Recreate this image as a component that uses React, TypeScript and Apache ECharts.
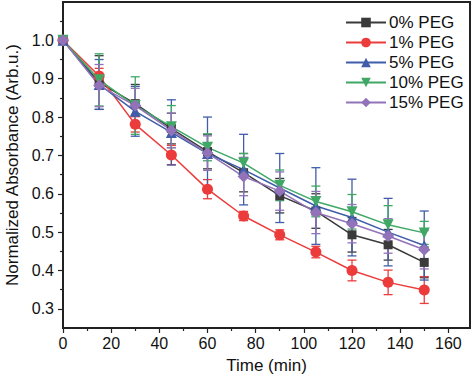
import React, { useEffect, useRef } from "react";
import * as echarts from "echarts";

const times = [0, 15, 30, 45, 60, 75, 90, 105, 120, 135, 150];

const peg0 = [1.0, 0.89, 0.835, 0.77, 0.71, 0.655, 0.595, 0.555, 0.493, 0.467, 0.421];
const err0 = [0, 0.07, 0.05, 0.04, 0.045, 0.05, 0.045, 0.045, 0.045, 0.04, 0.04];
const peg1 = [1.0, 0.907, 0.781, 0.701, 0.612, 0.542, 0.493, 0.448, 0.4, 0.369, 0.349];
const err1 = [0, 0.02, 0.02, 0.025, 0.025, 0.012, 0.013, 0.015, 0.027, 0.032, 0.035];
const peg5 = [1.0, 0.885, 0.815, 0.76, 0.705, 0.663, 0.615, 0.568, 0.538, 0.5, 0.465];
const err5 = [0, 0.065, 0.065, 0.085, 0.095, 0.092, 0.09, 0.1, 0.1, 0.088, 0.09];
const peg10 = [1.0, 0.897, 0.83, 0.775, 0.721, 0.68, 0.622, 0.58, 0.553, 0.519, 0.498];
const err10 = [0, 0.068, 0.075, 0.055, 0.035, 0.025, 0.04, 0.04, 0.045, 0.05, 0.03];
const peg15 = [1.0, 0.882, 0.83, 0.765, 0.706, 0.645, 0.607, 0.551, 0.522, 0.49, 0.454];
const err15 = [0, 0.055, 0.045, 0.045, 0.045, 0.05, 0.05, 0.055, 0.05, 0.045, 0.05];

const names = ["0% PEG", "1% PEG", "5% PEG", "10% PEG", "15% PEG"];
const colors = ["#3a3a3a", "#ec3b3b", "#3f5da8", "#3fa865", "#9272b8"];
const symbols = ["rect", "circle", "triangle", "path://M0,0 L10,0 L5,9 Z", "diamond"];
const symbolSizes = [9, 11, 11, 11, 12];

const xMajor = [0, 20, 40, 60, 80, 100, 120, 140, 160];
const xMinor = [10, 30, 50, 70, 90, 110, 130, 150];
const yMajor = [0.3, 0.4, 0.5, 0.6, 0.7, 0.8, 0.9, 1.0];
const yMinor = [0.35, 0.45, 0.55, 0.65, 0.75, 0.85, 0.95, 1.05];

const FONT = "'Liberation Sans', Arial, sans-serif";

export default function App() {
  const ref = useRef<HTMLDivElement>(null);
  useEffect(() => {
    if (!ref.current) return;
    const chart = echarts.init(ref.current, undefined, { renderer: "svg" });
    const vals = [peg0, peg1, peg5, peg10, peg15];
    const errs = [err0, err1, err5, err10, err15];

    const errSeries = vals.map((v, si) => ({
      type: "custom",
      name: "err" + si,
      xAxisIndex: 0,
      yAxisIndex: 0,
      z: 2,
      data: times.map((t, i) => [t, v[i] - errs[si][i], v[i] + errs[si][i]]),
      encode: { x: 0, y: [1, 2] },
      renderItem: (params: any, api: any) => {
        const x = api.value(0);
        const lo = api.value(1);
        const hi = api.value(2);
        if (hi - lo < 1e-6) return null;
        const p1 = api.coord([x, lo]);
        const p2 = api.coord([x, hi]);
        const w = 4.5;
        const style = { stroke: colors[si], lineWidth: 1.3, fill: "none" };
        return {
          type: "group",
          children: [
            { type: "line", shape: { x1: p1[0], y1: p1[1], x2: p2[0], y2: p2[1] }, style },
            { type: "line", shape: { x1: p1[0] - w, y1: p1[1], x2: p1[0] + w, y2: p1[1] }, style },
            { type: "line", shape: { x1: p2[0] - w, y1: p2[1], x2: p2[0] + w, y2: p2[1] }, style },
          ],
        };
      },
    }));

    const lineSeries = vals.map((v, si) => ({
      type: "line",
      name: names[si],
      xAxisIndex: 0,
      yAxisIndex: 0,
      z: 3,
      data: times.map((t, i) => [t, v[i]]),
      symbol: symbols[si],
      symbolSize: symbolSizes[si],
      showAllSymbol: true,
      lineStyle: { color: colors[si], width: 1.5 },
      itemStyle: { color: colors[si], borderWidth: 0 },
    }));

    const axisLabelStyle = { color: "#111", fontSize: 16, fontFamily: FONT };

    chart.setOption({
      animation: false,
      backgroundColor: "#fff",
      grid: {
        left: 63,
        right: 4,
        top: 2,
        bottom: 54,
        show: true,
        borderColor: "#222",
        borderWidth: 2,
        backgroundColor: "transparent",
        outerBoundsMode: "none",
      },
      legend: {
        data: names,
        orient: "vertical",
        left: 340,
        top: 9,
        itemWidth: 40,
        itemHeight: 12,
        itemGap: 3,
        textStyle: { color: "#111", fontSize: 17, fontFamily: FONT, padding: [0, 0, 0, -2] },
      },
      xAxis: [
        {
          type: "value",
          position: "bottom",
          min: 0,
          max: 169,
          name: "Time (min)",
          nameLocation: "middle",
          nameGap: 29,
          nameTextStyle: { color: "#111", fontSize: 17, fontFamily: FONT },
          axisLine: { show: true, lineStyle: { color: "#222", width: 1.5 } },
          axisTick: { show: true, inside: false, length: 5, customValues: xMajor, lineStyle: { color: "#222", width: 1.2 } },
          axisLabel: { ...axisLabelStyle, margin: 7, customValues: xMajor },
          splitLine: { show: false },
        },
        {
          type: "value",
          position: "bottom",
          min: 0,
          max: 169,
          axisLine: { show: false },
          axisTick: { show: true, inside: false, length: 3, customValues: xMinor, lineStyle: { color: "#222", width: 1.2 } },
          axisLabel: { show: false },
          splitLine: { show: false },
        },
      ],
      yAxis: [
        {
          type: "value",
          position: "left",
          min: 0.25,
          max: 1.1,
          name: "Normalized Absorbance (Arb.u.)",
          nameLocation: "middle",
          nameGap: 40,
          nameTextStyle: { color: "#111", fontSize: 17, fontFamily: FONT },
          axisLine: { show: true, lineStyle: { color: "#222", width: 1.5 } },
          axisTick: { show: true, inside: false, length: 5, customValues: yMajor, lineStyle: { color: "#222", width: 1.2 } },
          axisLabel: { ...axisLabelStyle, margin: 9, customValues: yMajor, formatter: (v: number) => v.toFixed(1) },
          splitLine: { show: false },
        },
        {
          type: "value",
          position: "left",
          min: 0.25,
          max: 1.1,
          axisLine: { show: false },
          axisTick: { show: true, inside: false, length: 3, customValues: yMinor, lineStyle: { color: "#222", width: 1.2 } },
          axisLabel: { show: false },
          splitLine: { show: false },
        },
      ],
      series: [...errSeries, ...lineSeries],
    } as any);
    return () => chart.dispose();
  }, []);
  return <div ref={ref} style={{ width: 474, height: 382, position: "absolute", left: 0, top: 0 }} />;
}
